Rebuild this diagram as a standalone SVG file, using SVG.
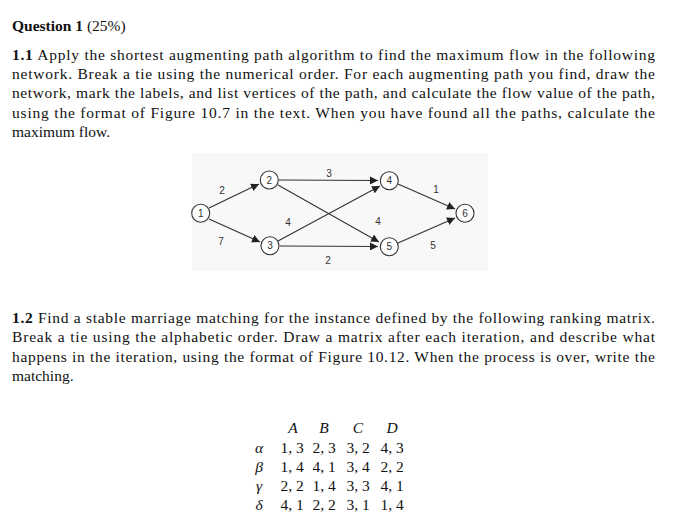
<svg xmlns="http://www.w3.org/2000/svg" width="683" height="520" viewBox="0 0 683 520">
<style>
.t{font-family:"Liberation Serif",serif;font-size:15.5px;fill:#111}
.b{font-weight:bold}
.n circle{fill:#fff;stroke:#333;stroke-width:1.1}
.n text,.l{font-family:"Liberation Sans",Arial,sans-serif;font-size:10px;fill:#333;text-anchor:middle}
.e line{stroke:#333;stroke-width:1.1;marker-end:url(#a)}
.m{font-family:"Liberation Serif",serif;font-size:15.5px;fill:#111}
.i{font-style:italic}
</style>
<defs><marker id="a" viewBox="0 0 10 10" refX="10" refY="5" markerWidth="8" markerHeight="8" markerUnits="userSpaceOnUse" orient="auto"><path d="M0,0L10,5L0,10z" fill="#222"/></marker></defs>
<rect width="683" height="520" fill="#fff"/>
<text class="t" x="12" y="31"><tspan class="b">Question 1</tspan> (25%)</text>
<text class="t" x="12" y="60" textLength="643" lengthAdjust="spacing"><tspan class="b">1.1</tspan> Apply the shortest augmenting path algorithm to find the maximum flow in the following</text>
<text class="t" x="12" y="79" textLength="643" lengthAdjust="spacing">network. Break a tie using the numerical order. For each augmenting path you find, draw the</text>
<text class="t" x="12" y="98" textLength="643" lengthAdjust="spacing">network, mark the labels, and list vertices of the path, and calculate the flow value of the path,</text>
<text class="t" x="12" y="118" textLength="643" lengthAdjust="spacing">using the format of Figure 10.7 in the text. When you have found all the paths, calculate the</text>
<text class="t" x="12" y="137">maximum flow.</text>
<rect x="192" y="153" width="296" height="118" fill="#f8f8f8"/>
<g class="e">
<line x1="209" y1="208" x2="259" y2="184"/>
<line x1="209" y1="219" x2="260" y2="242"/>
<line x1="279" y1="180" x2="378" y2="180.5"/>
<line x1="278" y1="185" x2="379" y2="242"/>
<line x1="278" y1="241" x2="380" y2="186"/>
<line x1="280" y1="246" x2="378" y2="246.5"/>
<line x1="398" y1="184" x2="455" y2="209"/>
<line x1="398" y1="243" x2="455" y2="218"/>
</g>
<g id="n1" class="n"><circle cx="200.7" cy="213.3" r="9"/><text x="200.7" y="216.8">1</text></g>
<g id="n2" class="n"><circle cx="269.3" cy="180" r="9"/><text x="269.3" y="183.5">2</text></g>
<g id="n3" class="n"><circle cx="270" cy="245.7" r="9"/><text x="270" y="249.2">3</text></g>
<g id="n4" class="n"><circle cx="389.3" cy="180.7" r="9"/><text x="389.3" y="184.2">4</text></g>
<g id="n5" class="n"><circle cx="389.3" cy="246.7" r="9"/><text x="389.3" y="250.2">5</text></g>
<g id="n6" class="n"><circle cx="465" cy="213.3" r="9"/><text x="465" y="216.8">6</text></g>
<g>
<text class="l" x="222" y="194">2</text>
<text class="l" x="329" y="177">3</text>
<text class="l" x="436" y="193">1</text>
<text class="l" x="288" y="226">4</text>
<text class="l" x="378" y="225">4</text>
<text class="l" x="221" y="245">7</text>
<text class="l" x="433" y="249">5</text>
<text class="l" x="328" y="264">2</text>
</g>
<text class="t" x="12" y="323" textLength="643" lengthAdjust="spacing"><tspan class="b">1.2</tspan> Find a stable marriage matching for the instance defined by the following ranking matrix.</text>
<text class="t" x="12" y="342" textLength="643" lengthAdjust="spacing">Break a tie using the alphabetic order. Draw a matrix after each iteration, and describe what</text>
<text class="t" x="12" y="362" textLength="643" lengthAdjust="spacing">happens in the iteration, using the format of Figure 10.12. When the process is over, write the</text>
<text class="t" x="12" y="381">matching.</text>
<g class="m" text-anchor="middle">
<text class="m i" x="293" y="433">A</text><text class="m i" x="324" y="433">B</text><text class="m i" x="358" y="433">C</text><text class="m i" x="392" y="433">D</text>
<text class="m i" x="259" y="453">α</text><text class="m" x="292" y="453">1, 3</text><text class="m" x="324" y="453">2, 3</text><text class="m" x="358" y="453">3, 2</text><text class="m" x="392" y="453">4, 3</text>
<text class="m i" x="259" y="472">β</text><text class="m" x="292" y="472">1, 4</text><text class="m" x="324" y="472">4, 1</text><text class="m" x="358" y="472">3, 4</text><text class="m" x="392" y="472">2, 2</text>
<text class="m i" x="259" y="491">γ</text><text class="m" x="292" y="491">2, 2</text><text class="m" x="324" y="491">1, 4</text><text class="m" x="358" y="491">3, 3</text><text class="m" x="392" y="491">4, 1</text>
<text class="m i" x="259" y="510">δ</text><text class="m" x="292" y="510">4, 1</text><text class="m" x="324" y="510">2, 2</text><text class="m" x="358" y="510">3, 1</text><text class="m" x="392" y="510">1, 4</text>
</g>
</svg>
